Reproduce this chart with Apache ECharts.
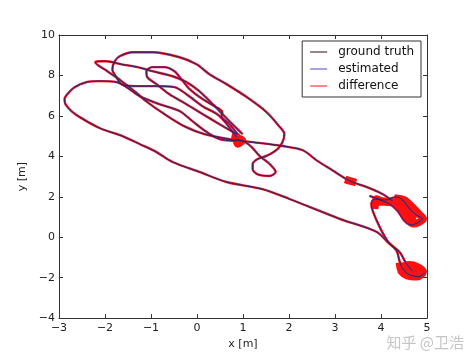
<!DOCTYPE html>
<html>
<head>
<meta charset="utf-8">
<script src="https://cdn.jsdelivr.net/npm/echarts@6/dist/echarts.min.js"></script>
<style>
html, body { margin: 0; padding: 0; background: #fff; }
#chart { width: 474px; height: 355px; }
</style>
</head>
<body>
<div id="chart"></div>
<script>
// axis ticks
const xTicks = [-3, -2, -1, 0, 1, 2, 3, 4, 5];
const yTicks = [-4, -2, 0, 2, 4, 6, 8, 10];
const seriesNames = ['ground truth', 'estimated', 'difference'];

// trajectory pieces, [x, y] in metres
const trackLower = [
  [4.68, -1.66], [4.55, -1.31], [4.47, -0.97], [4.40, -0.72], [4.18, -0.32],
  [3.90, 0.27], [3.10, 0.91], [2.01, 1.89], [1.42, 2.38], [0.64, 2.73],
  [0.05, 3.23], [-0.53, 3.72], [-0.88, 4.21], [-1.25, 4.61], [-1.62, 5.00],
  [-2.12, 5.40], [-2.55, 5.94], [-2.73, 6.24], [-2.86, 6.58], [-2.88, 6.83],
  [-2.82, 7.07], [-2.66, 7.42], [-2.40, 7.67], [-2.12, 7.72], [-1.75, 7.67],
  [-1.53, 7.42], [-1.25, 6.98], [-0.82, 6.58], [-0.38, 6.24], [-0.10, 5.74],
  [0.21, 5.20], [0.49, 4.85], [0.86, 4.76]
];
const trackCorner = [
  [0.99, 5.10], [0.77, 5.59], [0.49, 6.24], [0.05, 7.22], [-0.23, 7.67],
  [-0.53, 7.96], [-0.97, 8.21], [-1.29, 8.41], [-1.64, 8.55], [-1.97, 8.70],
  [-2.12, 8.70], [-2.21, 8.65], [-1.95, 8.21], [-1.64, 7.72], [-1.36, 7.22],
  [-1.08, 6.68], [-0.71, 6.09], [-0.27, 5.48], [0.16, 5.10], [0.77, 4.82],
  [1.21, 4.70], [1.86, 4.51], [2.30, 4.30], [2.60, 3.80], [2.95, 3.30],
  [3.32, 2.78], [3.68, 2.49], [4.03, 2.14], [4.25, 1.79]
];
const trackOuter = [
  [0.86, 4.95], [0.49, 5.99], [0.12, 6.48], [-0.23, 7.07], [-0.49, 7.42],
  [-0.92, 7.47], [-1.36, 7.47], [-1.64, 7.57], [-1.75, 7.91], [-1.84, 8.31],
  [-1.79, 8.70], [-1.68, 8.95], [-1.40, 9.15], [-0.97, 9.15], [-0.38, 8.90],
  [-0.01, 8.55], [0.27, 8.06], [0.64, 7.57], [1.08, 6.93], [1.51, 6.19],
  [1.79, 5.48], [1.90, 5.10], [1.86, 4.71], [1.75, 4.36], [1.51, 4.02],
  [1.32, 3.87], [1.21, 3.62], [1.21, 3.36], [1.32, 3.11], [1.58, 3.03],
  [1.71, 3.23], [1.58, 3.62], [1.36, 4.02], [1.19, 4.46], [1.04, 4.71],
  [0.86, 4.85]
];
const trackInner = [
  [0.86, 5.10], [0.49, 5.59], [0.12, 6.09], [-0.23, 6.58], [-0.60, 7.07],
  [-0.88, 7.57], [-1.08, 7.91], [-1.10, 8.21], [-0.97, 8.41], [-0.71, 8.41],
  [-0.49, 8.21], [-0.34, 7.81], [-0.16, 7.32], [0.12, 6.83], [0.42, 6.43],
  [0.55, 6.19], [0.53, 5.99], [0.71, 5.59], [0.88, 5.10]
];
const trackEast = [
  [3.75, 2.04], [4.08, 1.84], [4.34, 1.99], [4.47, 1.84], [4.62, 1.40],
  [4.77, 1.10], [4.90, 0.91], [4.66, 0.61], [4.51, 0.81], [4.36, 1.30],
  [4.18, 1.65], [3.86, 1.89], [3.79, 1.65], [3.82, 1.30], [3.97, 0.51],
  [4.14, -0.18], [4.34, -0.67], [4.40, -1.16], [4.47, -1.56], [4.62, -1.86],
  [4.84, -1.95], [4.95, -1.76]
];
// places where the error band is wide
const blobNorth = [
  [4.29, 1.94], [4.51, 1.84], [4.68, 1.50], [4.84, 1.11], [4.92, 0.91],
  [4.70, 0.66], [4.55, 0.96], [4.44, 1.35], [4.29, 1.70], [4.03, 1.79],
  [3.90, 1.89], [3.86, 1.40], [3.92, 1.75], [4.45, 1.60], [4.70, 1.05],
  [4.60, 0.80]
];
const blobSouth = [
  [4.40, -1.26], [4.44, -1.66], [4.57, -1.90], [4.79, -1.95], [4.92, -1.71],
  [4.79, -1.46], [4.62, -1.36], [4.49, -1.46], [4.44, -1.80], [4.65, -1.70],
  [4.80, -1.70], [4.60, -1.55]
];
const blobStar = [[0.75, 5.00], [0.99, 4.80], [0.88, 4.61], [0.84, 5.05], [0.90, 4.85]];
const blobBend = [[3.22, 2.86], [3.34, 2.77], [3.46, 2.70]];

const tracks = [trackLower, trackCorner, trackOuter, trackInner, trackEast];
const blobs = [blobNorth, blobSouth, blobStar, blobBend];

const chart = echarts.init(document.getElementById('chart'));
const font = 'DejaVu Sans';
const minus = v => String(v).replace('-', '\u2212');

function lineSeries(name, data, color, width, opacity) {
  return {
    name: name,
    type: 'line',
    data: data,
    showSymbol: false,
    smooth: 0.3,
    silent: true,
    color: color,
    lineStyle: { color: color, width: width, opacity: opacity }
  };
}

const series = [];
tracks.forEach(t => series.push(lineSeries('difference', t, '#ff1010', 2.4, 1)));
blobs.forEach(b => series.push(lineSeries('difference', b, '#ff1010', 7.5, 1)));
tracks.forEach(t => series.push(lineSeries('estimated', t, '#4848c8', 1.1, 0.9)));
tracks.forEach(t => series.push(lineSeries('ground truth', t, '#2a0a20', 0.9, 0.7)));

const axisCommon = {
  type: 'value',
  axisLine: { show: true, onZero: false, lineStyle: { color: '#333', width: 1 } },
  axisTick: { show: true, inside: true, length: 4, lineStyle: { color: '#333' } },
  splitLine: { show: false },
  axisLabel: { color: '#222', fontFamily: font, fontSize: 11, formatter: minus }
};

chart.setOption({
  animation: false,
  backgroundColor: '#fff',
  grid: { left: 59, right: 47, top: 35, bottom: 36 },
  legend: {
    data: seriesNames,
    right: 53,
    top: 41,
    orient: 'vertical',
    itemWidth: 17,
    itemHeight: 1,
    itemGap: 5,
    icon: 'rect',
    padding: [5, 7, 5, 8],
    borderColor: '#333',
    borderWidth: 1,
    backgroundColor: '#fff',
    textStyle: { fontFamily: font, fontSize: 12, color: '#111', padding: [0, 0, 0, 6] }
  },
  xAxis: [
    Object.assign({}, axisCommon, {
      min: -3, max: 5, interval: 1,
      name: 'x [m]', nameLocation: 'middle', nameGap: 16,
      nameTextStyle: { fontFamily: font, fontSize: 11, color: '#222' },
      axisLabel: Object.assign({}, axisCommon.axisLabel, { margin: 5 })
    }),
    Object.assign({}, axisCommon, {
      position: 'top', min: -3, max: 5, interval: 1,
      axisLabel: { show: false }
    })
  ],
  yAxis: [
    Object.assign({}, axisCommon, {
      min: -4, max: 10, interval: 2,
      name: 'y [m]', nameLocation: 'middle', nameGap: 17,
      nameTextStyle: { fontFamily: font, fontSize: 11, color: '#222' },
      axisLabel: Object.assign({}, axisCommon.axisLabel, { margin: 4 })
    }),
    Object.assign({}, axisCommon, {
      position: 'right', min: -4, max: 10, interval: 2,
      axisLabel: { show: false }
    })
  ],
  graphic: [{
    type: 'text',
    right: 10,
    bottom: 5,
    style: {
      text: '知乎 @卫浩',
      fill: 'rgba(150,150,150,0.55)',
      font: '15px "Noto Sans CJK SC"'
    }
  }],
  series: series
});
</script>
</body>
</html>
